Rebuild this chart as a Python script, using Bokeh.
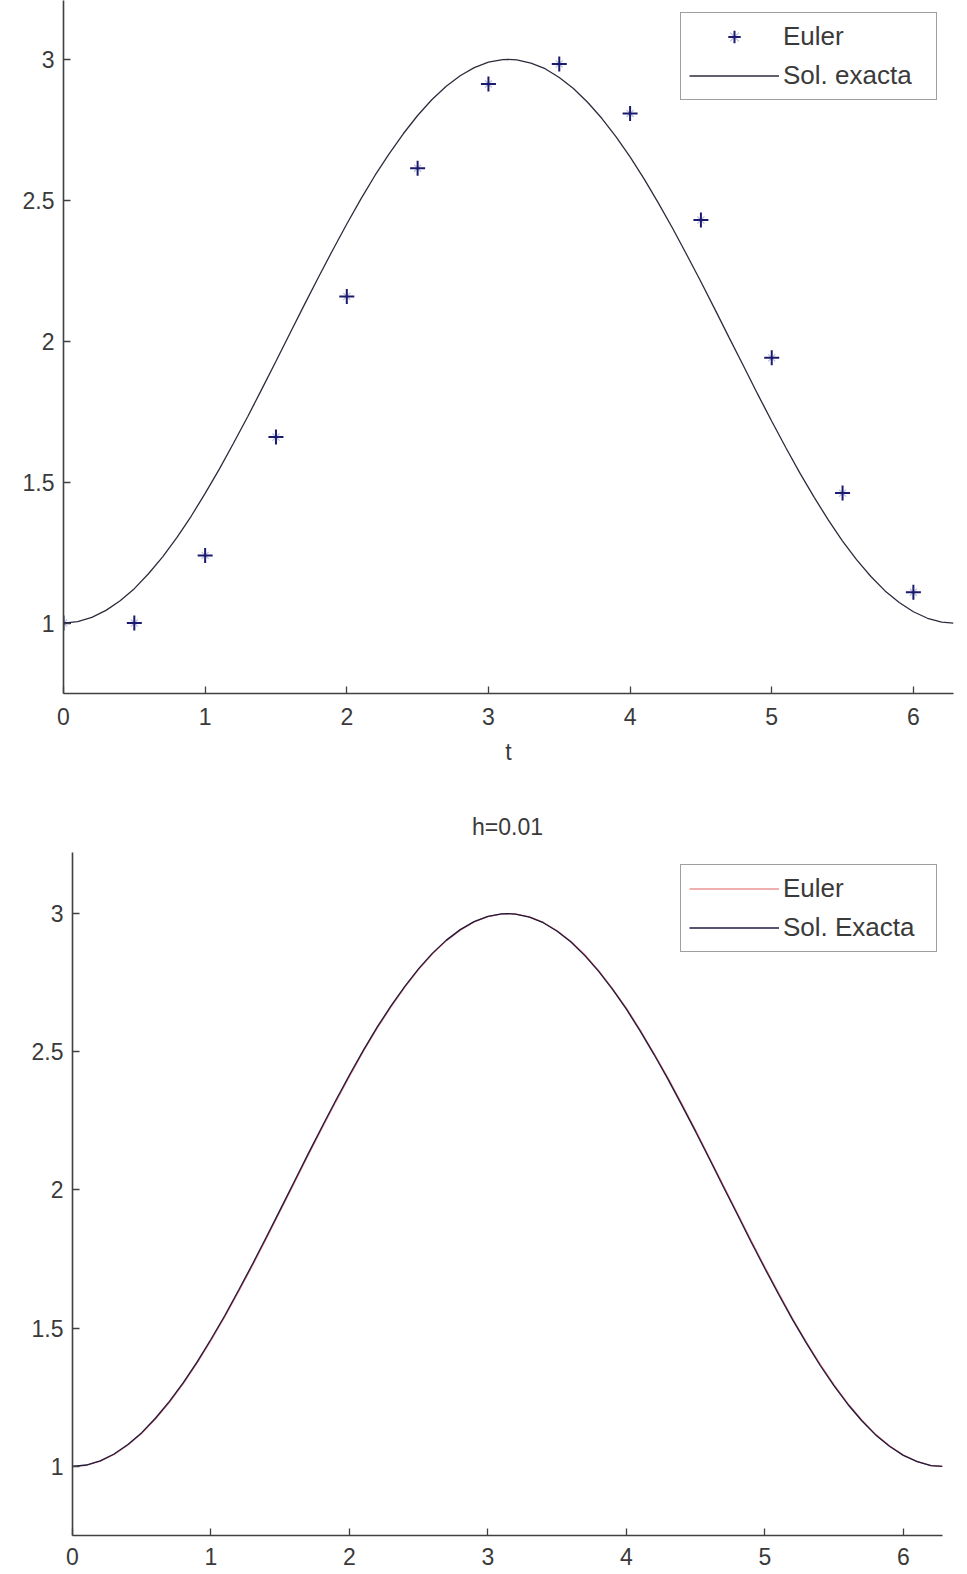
from bokeh.plotting import figure
from bokeh.layouts import column, row
from bokeh.models import FixedTicker, Range1d, Legend, LegendItem, Spacer
from bokeh.embed import file_html
from bokeh.resources import INLINE

# ---------------- data ----------------
# Euler method, h = 0.5
t_euler = [0.0, 0.5, 1.0, 1.5, 2.0, 2.5, 3.0, 3.5, 4.0, 4.5, 5.0, 5.5, 6.0]
y_euler = [1.000, 1.000, 1.240, 1.660, 2.159, 2.614, 2.913, 2.984, 2.808, 2.430, 1.941, 1.461, 1.109]

# exact solution samples
t_curve = [0.0, 0.1, 0.2, 0.3, 0.4, 0.5, 0.6, 0.7, 0.8, 0.9, 1.0, 1.1, 1.2, 1.3, 1.4, 1.5,
           1.6, 1.7, 1.8, 1.9, 2.0, 2.1, 2.2, 2.3, 2.4, 2.5, 2.6, 2.7, 2.8, 2.9, 3.0, 3.1,
           3.14, 3.2, 3.3, 3.4, 3.5, 3.6, 3.7, 3.8, 3.9, 4.0, 4.1, 4.2, 4.3, 4.4, 4.5, 4.6,
           4.7, 4.8, 4.9, 5.0, 5.1, 5.2, 5.3, 5.4, 5.5, 5.6, 5.7, 5.8, 5.9, 6.0, 6.1, 6.2, 6.283]
y_exact = [1.000, 1.005, 1.020, 1.045, 1.079, 1.122, 1.175, 1.235, 1.303, 1.378, 1.460, 1.546,
           1.638, 1.732, 1.830, 1.929, 2.029, 2.129, 2.227, 2.323, 2.416, 2.505, 2.589, 2.666,
           2.737, 2.801, 2.857, 2.904, 2.942, 2.971, 2.990, 2.999, 3.000, 2.998, 2.987, 2.967,
           2.936, 2.897, 2.848, 2.791, 2.726, 2.654, 2.575, 2.490, 2.401, 2.307, 2.211, 2.112,
           2.012, 1.913, 1.813, 1.716, 1.622, 1.531, 1.446, 1.365, 1.291, 1.224, 1.165, 1.114,
           1.073, 1.040, 1.017, 1.003, 1.000]
# Euler method, h = 0.01 (lower panel, almost on top of the exact curve)
y_euler_fine = [1.000, 1.004, 1.019, 1.043, 1.077, 1.120, 1.172, 1.232, 1.299, 1.374, 1.456,
                1.542, 1.633, 1.727, 1.825, 1.924, 2.024, 2.124, 2.222, 2.318, 2.411, 2.501,
                2.585, 2.662, 2.734, 2.798, 2.854, 2.902, 2.940, 2.970, 2.989, 2.999, 3.000,
                2.998, 2.988, 2.968, 2.938, 2.899, 2.851, 2.794, 2.729, 2.658, 2.579, 2.494,
                2.406, 2.312, 2.216, 2.117, 2.017, 1.918, 1.818, 1.721, 1.627, 1.535, 1.450,
                1.369, 1.295, 1.227, 1.168, 1.116, 1.075, 1.041, 1.018, 1.003, 1.000]

x_ticks = [0, 1, 2, 3, 4, 5, 6]
x_tick_labels = ["0", "1", "2", "3", "4", "5", "6"]
y_ticks = [1, 1.5, 2, 2.5, 3]
y_tick_labels = ["1", "1.5", "2", "2.5", "3"]

title_bottom = "h=0.01"
xlabel_top = "t"

FONT = "Liberation Sans"
TXT = "#3a3a3a"
AX = "#404040"
FS = "23px"
FS_LEG = "26px"


def style(p, x_standoff):
    p.outline_line_color = None
    p.grid.visible = False
    p.background_fill_color = "white"
    p.border_fill_color = "white"
    for ax in (p.xaxis[0], p.yaxis[0]):
        ax.axis_line_color = AX
        ax.axis_line_width = 1.6
        ax.major_tick_line_color = AX
        ax.major_tick_line_width = 1.3
        ax.major_tick_in = 7
        ax.major_tick_out = 0
        ax.minor_tick_line_color = None
        ax.major_label_text_font = FONT
        ax.major_label_text_font_size = FS
        ax.major_label_text_color = TXT
        ax.major_label_standoff = 9
    p.xaxis.major_label_standoff = x_standoff
    p.xaxis.ticker = FixedTicker(ticks=x_ticks)
    p.yaxis.ticker = FixedTicker(ticks=y_ticks)
    p.xaxis.major_label_overrides = {k: v for k, v in zip(x_ticks, x_tick_labels)}
    p.yaxis.major_label_overrides = {k: v for k, v in zip(y_ticks, y_tick_labels)}


def legend_style(lg):
    lg.border_line_color = AX
    lg.border_line_width = 1.3
    lg.background_fill_color = "white"
    lg.background_fill_alpha = 1.0
    lg.label_text_font = FONT
    lg.label_text_font_size = FS_LEG
    lg.label_text_color = TXT
    lg.glyph_width = 90
    lg.glyph_height = 31
    lg.label_height = 31
    lg.label_width = 145
    lg.label_standoff = 4
    lg.spacing = 8
    lg.padding = 8
    lg.margin = 0


# ---------------- top panel ----------------
p1 = figure(frame_width=890, frame_height=693,
            x_range=Range1d(0, 6.2832), y_range=Range1d(0.75, 3.209),
            output_backend="svg", toolbar_location=None,
            min_border_left=63, min_border_right=8, min_border_top=0, min_border_bottom=95)
style(p1, 14)
p1.xaxis.axis_label = xlabel_top
p1.xaxis.axis_label_text_font = FONT
p1.xaxis.axis_label_text_font_size = FS
p1.xaxis.axis_label_text_font_style = "normal"
p1.xaxis.axis_label_text_color = TXT
p1.xaxis.axis_label_standoff = 11

r_exact1 = p1.line(t_curve, y_exact, line_color="#2c2c3c", line_width=1.3)
r_star_x = p1.scatter(t_euler, y_euler, marker="x", size=10, line_color="#6a6ab0",
                      line_alpha=0.45, line_width=1.2)
r_star_c = p1.scatter(t_euler, y_euler, marker="cross", size=15, line_color="#1a1a6e",
                      line_width=2.0)

lg1 = Legend(items=[LegendItem(label="Euler", renderers=[r_star_x, r_star_c]),
                    LegendItem(label="Sol. exacta", renderers=[r_exact1])],
             location=(617, 593))
legend_style(lg1)
p1.add_layout(lg1, "center")

# ---------------- bottom panel ----------------
p2 = figure(frame_width=870, frame_height=683,
            x_range=Range1d(0, 6.2832), y_range=Range1d(0.75, 3.221),
            output_backend="svg", toolbar_location=None,
            min_border_left=63, min_border_right=8, min_border_top=64, min_border_bottom=34)
style(p2, 12)
p2.title.text = title_bottom
p2.title.align = "center"
p2.title.text_font = FONT
p2.title.text_font_size = FS
p2.title.text_font_style = "normal"
p2.title.text_color = TXT
p2.title.standoff = 25

r_euler2 = p2.line(t_curve, y_euler_fine, line_color="#e06060", line_width=1.2)
r_exact2 = p2.line(t_curve, y_exact, line_color="#1c1c40", line_width=1.3)

lg2 = Legend(items=[LegendItem(label="Euler", renderers=[r_euler2]),
                    LegendItem(label="Sol. Exacta", renderers=[r_exact2])],
             location=(608, 583))
legend_style(lg2)
p2.add_layout(lg2, "center")

layout = column(p1, row(Spacer(width=9, height=10), p2, spacing=0), spacing=0)
open("out.html", "w").write(file_html(layout, INLINE))
